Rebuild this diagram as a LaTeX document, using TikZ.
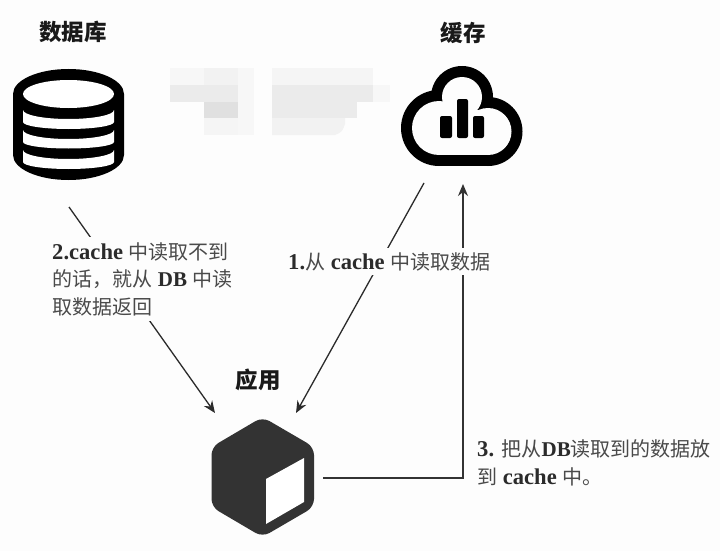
\documentclass[tikz,border=0pt]{standalone}
\usepackage{fontspec}
\setmainfont[Scale=1.13]{Liberation Serif}
\newfontfamily\cjk{Noto Sans CJK SC}
\usetikzlibrary{arrows.meta}
\definecolor{paper}{HTML}{FDFDFD}
\definecolor{ink}{HTML}{2B2B2B}
\definecolor{textgray}{HTML}{4A4A4A}
\definecolor{cubegray}{HTML}{333333}
\newcommand{\zh}[1]{{\cjk\color{textgray}#1}}
\newcommand{\en}[1]{\textbf{\color{ink}#1}}
\newcommand{\dbname}{\en{\fontsize{18.6}{27.5}\selectfont DB}}
\tikzset{
	title/.style={font=\cjk\bfseries\fontsize{22.5}{24}\selectfont, text=black!90, inner sep=0},
	note/.style={font=\fontsize{20}{27.5}\selectfont, align=left, anchor=north west, inner sep=0, fill=paper},
	flow/.style={line width=1.3pt, color=ink, -{Stealth[length=12pt,width=10pt]}},
}

\begin{document}
\begin{tikzpicture}[x=1pt,y=-1pt]
	%%%%% START %%%%%
	\useasboundingbox (0, 0) rectangle (720, 551);
	\fill[paper] (0, 0) rectangle (720, 551);

	% mosaic
	\fill[black!3] (170, 68) rectangle (204, 85);
	\fill[black!5] (204, 68) rectangle (238, 85);
	\fill[black!3] (238, 68) rectangle (254, 85);
	\fill[black!8] (170, 85) rectangle (238, 102);
	\fill[black!3] (238, 85) rectangle (254, 135);
	\fill[black!12] (204, 102) rectangle (238, 118);
	\fill[black!4] (204, 118) rectangle (238, 135);
	\fill[black!4] (272, 68) rectangle (373, 85);
	\fill[black!8] (272, 85) rectangle (373, 102);
	\fill[black!3] (373, 85) rectangle (390, 102);
	\fill[black!8] (272, 102) rectangle (357, 118);
	\fill[black!5] (272, 118) -- (345, 118) -- (345, 124) .. controls (342, 132) .. (335, 135) -- (272, 135) -- cycle;

	% database
	\fill (13, 94) -- (13, 155) arc [start angle=180, end angle=0, x radius=55.5, y radius=25] -- (124, 94) arc [start angle=0, end angle=-180, x radius=55.5, y radius=25] -- cycle;
	\fill[white] (68.5, 94) ellipse [x radius=45.5, y radius=14];
	\fill[white] (23, 110) arc [start angle=180, end angle=0, x radius=45.5, y radius=9] -- (114, 122) arc [start angle=0, end angle=180, x radius=45.5, y radius=7] -- cycle;
	\fill[white] (23, 130) arc [start angle=180, end angle=0, x radius=45.5, y radius=9] -- (114, 142) arc [start angle=0, end angle=180, x radius=45.5, y radius=6.5] -- cycle;
	\fill[white] (23, 150) arc [start angle=180, end angle=0, x radius=45.5, y radius=9] -- (114, 162) arc [start angle=0, end angle=180, x radius=45.5, y radius=7] -- cycle;
	\node[title] (dbtitle) at (73, 32) {数据库};

	% cache
	\fill (439, 128) circle (38);
	\fill (462, 97) circle (31);
	\fill (488, 131.5) circle (34.5);
	\fill (439, 130) rectangle (488, 166);
	\fill[paper] (439, 128) circle (27);
	\fill[paper] (462, 97) circle (20);
	\fill[paper] (488, 131.5) circle (23.5);
	\fill[paper] (439, 110) rectangle (488, 155);
	\fill[rounded corners=2] (440, 116) rectangle (452, 138);
	\fill[rounded corners=2] (457, 99) rectangle (468, 138);
	\fill[rounded corners=2] (473, 116) rectangle (484, 138);
	\node[title] (cachetitle) at (463, 33) {缓存};

	% app
	\fill[cubegray, rounded corners=8] (262.5, 417) -- (314, 447) -- (314, 507) -- (262.5, 537) -- (211.5, 507) -- (211.5, 447) -- cycle;
	\fill[white] (304, 458) -- (304, 502) -- (266, 524) -- (266, 479) -- cycle;
	\node[title] (apptitle) at (258, 380) {应用};

	\coordinate (dbout) at (69, 207);
	\coordinate (dbin) at (215, 413);
	\coordinate (cacheout) at (424, 183);
	\coordinate (appin) at (296, 413);
	\coordinate (appout) at (323, 478);
	\coordinate (cachein) at (463, 184);

	\draw[flow] (dbout) -- (dbin);
	\draw[flow] (cacheout) -- (appin);
	\draw[flow, color=cubegray] (appout) -| (cachein);

	\node[note, minimum height=84] (readdb) at (52, 237) {\en{2.cache} \zh{中读取不到}\\\zh{的话，就从} \dbname{} \zh{中读}\\\zh{取数据返回}};
	\node[note, minimum height=27] (readcache) at (288, 248) {\en{1.}\zh{从} \en{cache} \zh{中读取数据}};
	\node[note, fill=none] (writecache) at (477, 439.5) {\en{3.} \zh{把从}\dbname\zh{读取到的数据放}\\\zh{到} \en{cache} \zh{中。}};
	%%%%% END %%%%%
\end{tikzpicture}
\end{document}
